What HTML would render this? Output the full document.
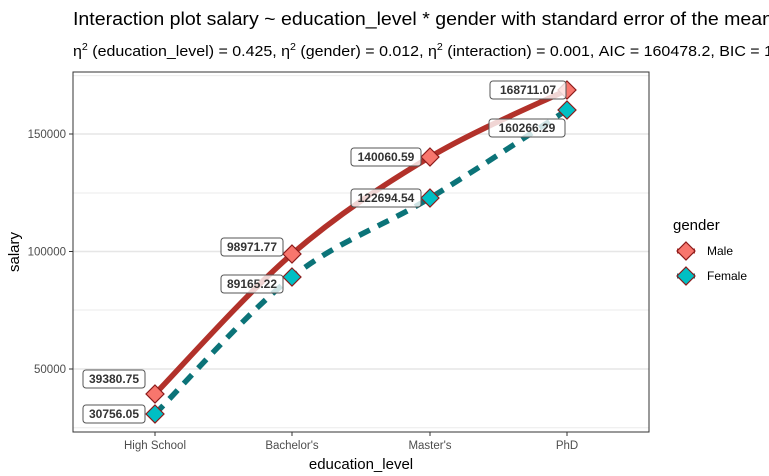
<!DOCTYPE html>
<html><head><meta charset="utf-8"><style>body{margin:0;background:#fff}svg{display:block}</style></head><body>
<svg width="769" height="476" xmlns="http://www.w3.org/2000/svg" font-family="Liberation Sans, sans-serif">
<text x="73" y="25" font-size="18" fill="#000" textLength="700" lengthAdjust="spacingAndGlyphs">Interaction plot  salary ~ education_level * gender with standard error of the mean</text>
<text x="73" y="56" font-size="15" fill="#000" textLength="700" lengthAdjust="spacingAndGlyphs">η<tspan dy="-6" font-size="10">2</tspan><tspan dy="6"> (education_level) = 0.425, η</tspan><tspan dy="-6" font-size="10">2</tspan><tspan dy="6"> (gender) = 0.012, η</tspan><tspan dy="-6" font-size="10">2</tspan><tspan dy="6"> (interaction) = 0.001, AIC = 160478.2, BIC = 1</tspan></text>
<g stroke="#ebebeb" stroke-width="1">
<line x1="73" x2="649" y1="75.6" y2="75.6"/><line x1="73" x2="649" y1="193" y2="193"/><line x1="73" x2="649" y1="310" y2="310"/><line x1="73" x2="649" y1="427.8" y2="427.8"/>
</g>
<g stroke="#e6e6e6" stroke-width="1.5">
<line x1="73" x2="649" y1="134" y2="134"/><line x1="73" x2="649" y1="251.5" y2="251.5"/><line x1="73" x2="649" y1="369" y2="369"/>
</g>
<rect x="73" y="72" width="576" height="360" fill="none" stroke="#333" stroke-width="1"/>
<g stroke="#333"><line x1="69" x2="73" y1="134" y2="134"/><line x1="69" x2="73" y1="251.5" y2="251.5"/><line x1="69" x2="73" y1="369" y2="369"/>
<line x1="155" x2="155" y1="432" y2="436"/><line x1="292" x2="292" y1="432" y2="436"/><line x1="430" x2="430" y1="432" y2="436"/><line x1="567" x2="567" y1="432" y2="436"/></g>
<g font-size="11.5" fill="#4d4d4d" text-anchor="end"><text x="66" y="138">150000</text><text x="66" y="255.5">100000</text><text x="66" y="373">50000</text></g>
<g font-size="11.5" fill="#4d4d4d" text-anchor="middle"><text x="155" y="449">High School</text><text x="292" y="449">Bachelor's</text><text x="430" y="449">Master's</text><text x="567" y="449">PhD</text></g>
<text x="361" y="469" font-size="15" text-anchor="middle">education_level</text>
<text x="19" y="252" font-size="15" text-anchor="middle" transform="rotate(-90 19 252)">salary</text>
<path d="M155,394 C177.8,370.7 246.2,293.5 292,254 C337.8,214.5 384.2,184.3 430,157 C475.8,129.7 544.2,101.2 567,90" fill="none" stroke="#b2312a" stroke-width="5.5"/>
<path d="M155,414 C177.8,391.2 246.2,313 292,277 C337.8,241 384.2,225.8 430,198 C475.8,170.2 544.2,124.7 567,110" fill="none" stroke="#0b7378" stroke-width="5.5" stroke-dasharray="12,9"/>
<g stroke="#8b1a1a" stroke-width="1.2">
<g fill="#f8766d"><path d="M155,385 L164,394 L155,403 L146,394Z"/><path d="M292,245 L301,254 L292,263 L283,254Z"/><path d="M430,148 L439,157 L430,166 L421,157Z"/><path d="M567,81 L576,90 L567,99 L558,90Z"/></g>
<g fill="#00bfc4"><path d="M155,405 L164,414 L155,423 L146,414Z"/><path d="M292,268 L301,277 L292,286 L283,277Z"/><path d="M430,189 L439,198 L430,207 L421,198Z"/><path d="M567,101 L576,110 L567,119 L558,110Z"/></g>
</g>
<g font-size="12" font-weight="bold" fill="#333" text-anchor="middle">
<g fill="#fff" fill-opacity="0.8" stroke="#555" stroke-width="1">
<rect x="83" y="370" width="62" height="18" rx="3"/><rect x="83" y="405" width="62" height="18" rx="3"/>
<rect x="221" y="238" width="62" height="18" rx="3"/><rect x="221" y="275" width="62" height="18" rx="3"/>
<rect x="351" y="148" width="70" height="18" rx="3"/><rect x="351" y="189" width="70" height="18" rx="3"/>
<rect x="490" y="81" width="76" height="18" rx="3"/><rect x="489" y="119" width="76" height="18" rx="3"/>
</g>
<text x="114" y="383">39380.75</text><text x="114" y="418">30756.05</text>
<text x="252" y="251">98971.77</text><text x="252" y="288">89165.22</text>
<text x="386" y="161">140060.59</text><text x="386" y="202">122694.54</text>
<text x="528" y="94">168711.07</text><text x="527" y="132">160266.29</text>
</g>
<text x="673" y="230" font-size="15">gender</text>
<line x1="677" x2="695" y1="251" y2="251" stroke="#b2312a" stroke-width="5"/>
<line x1="677" x2="695" y1="276" y2="276" stroke="#0b7378" stroke-width="5"/>
<g stroke="#8b1a1a" stroke-width="1.2">
<path d="M686,242 L695,251 L686,260 L677,251Z" fill="#f8766d"/>
<path d="M686,267 L695,276 L686,285 L677,276Z" fill="#00bfc4"/>
</g>
<g font-size="12" fill="#000"><text x="707" y="255">Male</text><text x="707" y="280">Female</text></g>
</svg>
</body></html>
